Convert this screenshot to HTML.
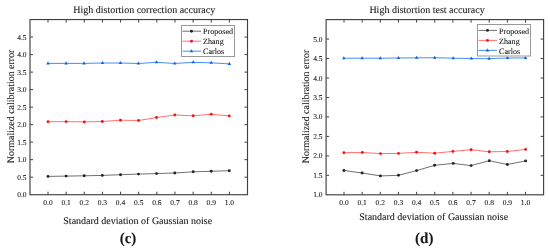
<!DOCTYPE html>
<html><head><meta charset="utf-8"><style>
html,body{margin:0;padding:0;background:#fff;}
svg{display:block;}
text{stroke:#111;stroke-width:0.08px;text-rendering:geometricPrecision;}
</style></head><body>
<svg width="550" height="251" viewBox="0 0 550 251" font-family='"Liberation Serif", "Times New Roman", serif' fill="#151515">
<rect width="550" height="251" fill="#fff"/>
<rect x="30.0" y="19.55" width="217.5" height="175.14999999999998" fill="none" stroke="#404040" stroke-width="1.15"/>
<line x1="48.00" y1="194.7" x2="48.00" y2="191.7" stroke="#404040" stroke-width="1"/>
<line x1="48.00" y1="19.55" x2="48.00" y2="22.55" stroke="#404040" stroke-width="1"/>
<text x="48.00" y="204.70" text-anchor="middle" font-size="7.5">0.0</text>
<line x1="66.14" y1="194.7" x2="66.14" y2="191.7" stroke="#404040" stroke-width="1"/>
<line x1="66.14" y1="19.55" x2="66.14" y2="22.55" stroke="#404040" stroke-width="1"/>
<text x="66.14" y="204.70" text-anchor="middle" font-size="7.5">0.1</text>
<line x1="84.28" y1="194.7" x2="84.28" y2="191.7" stroke="#404040" stroke-width="1"/>
<line x1="84.28" y1="19.55" x2="84.28" y2="22.55" stroke="#404040" stroke-width="1"/>
<text x="84.28" y="204.70" text-anchor="middle" font-size="7.5">0.2</text>
<line x1="102.42" y1="194.7" x2="102.42" y2="191.7" stroke="#404040" stroke-width="1"/>
<line x1="102.42" y1="19.55" x2="102.42" y2="22.55" stroke="#404040" stroke-width="1"/>
<text x="102.42" y="204.70" text-anchor="middle" font-size="7.5">0.3</text>
<line x1="120.56" y1="194.7" x2="120.56" y2="191.7" stroke="#404040" stroke-width="1"/>
<line x1="120.56" y1="19.55" x2="120.56" y2="22.55" stroke="#404040" stroke-width="1"/>
<text x="120.56" y="204.70" text-anchor="middle" font-size="7.5">0.4</text>
<line x1="138.70" y1="194.7" x2="138.70" y2="191.7" stroke="#404040" stroke-width="1"/>
<line x1="138.70" y1="19.55" x2="138.70" y2="22.55" stroke="#404040" stroke-width="1"/>
<text x="138.70" y="204.70" text-anchor="middle" font-size="7.5">0.5</text>
<line x1="156.84" y1="194.7" x2="156.84" y2="191.7" stroke="#404040" stroke-width="1"/>
<line x1="156.84" y1="19.55" x2="156.84" y2="22.55" stroke="#404040" stroke-width="1"/>
<text x="156.84" y="204.70" text-anchor="middle" font-size="7.5">0.6</text>
<line x1="174.98" y1="194.7" x2="174.98" y2="191.7" stroke="#404040" stroke-width="1"/>
<line x1="174.98" y1="19.55" x2="174.98" y2="22.55" stroke="#404040" stroke-width="1"/>
<text x="174.98" y="204.70" text-anchor="middle" font-size="7.5">0.7</text>
<line x1="193.12" y1="194.7" x2="193.12" y2="191.7" stroke="#404040" stroke-width="1"/>
<line x1="193.12" y1="19.55" x2="193.12" y2="22.55" stroke="#404040" stroke-width="1"/>
<text x="193.12" y="204.70" text-anchor="middle" font-size="7.5">0.8</text>
<line x1="211.26" y1="194.7" x2="211.26" y2="191.7" stroke="#404040" stroke-width="1"/>
<line x1="211.26" y1="19.55" x2="211.26" y2="22.55" stroke="#404040" stroke-width="1"/>
<text x="211.26" y="204.70" text-anchor="middle" font-size="7.5">0.9</text>
<line x1="229.40" y1="194.7" x2="229.40" y2="191.7" stroke="#404040" stroke-width="1"/>
<line x1="229.40" y1="19.55" x2="229.40" y2="22.55" stroke="#404040" stroke-width="1"/>
<text x="229.40" y="204.70" text-anchor="middle" font-size="7.5">1.0</text>
<text x="26.5" y="197.20" text-anchor="end" font-size="7.5">0.0</text>
<text x="26.5" y="179.69" text-anchor="end" font-size="7.5">0.5</text>
<line x1="30.0" y1="177.19" x2="33.0" y2="177.19" stroke="#404040" stroke-width="1"/>
<line x1="247.5" y1="177.19" x2="244.5" y2="177.19" stroke="#404040" stroke-width="1"/>
<text x="26.5" y="162.17" text-anchor="end" font-size="7.5">1.0</text>
<line x1="30.0" y1="159.67" x2="33.0" y2="159.67" stroke="#404040" stroke-width="1"/>
<line x1="247.5" y1="159.67" x2="244.5" y2="159.67" stroke="#404040" stroke-width="1"/>
<text x="26.5" y="144.66" text-anchor="end" font-size="7.5">1.5</text>
<line x1="30.0" y1="142.16" x2="33.0" y2="142.16" stroke="#404040" stroke-width="1"/>
<line x1="247.5" y1="142.16" x2="244.5" y2="142.16" stroke="#404040" stroke-width="1"/>
<text x="26.5" y="127.14" text-anchor="end" font-size="7.5">2.0</text>
<line x1="30.0" y1="124.64" x2="33.0" y2="124.64" stroke="#404040" stroke-width="1"/>
<line x1="247.5" y1="124.64" x2="244.5" y2="124.64" stroke="#404040" stroke-width="1"/>
<text x="26.5" y="109.62" text-anchor="end" font-size="7.5">2.5</text>
<line x1="30.0" y1="107.12" x2="33.0" y2="107.12" stroke="#404040" stroke-width="1"/>
<line x1="247.5" y1="107.12" x2="244.5" y2="107.12" stroke="#404040" stroke-width="1"/>
<text x="26.5" y="92.11" text-anchor="end" font-size="7.5">3.0</text>
<line x1="30.0" y1="89.61" x2="33.0" y2="89.61" stroke="#404040" stroke-width="1"/>
<line x1="247.5" y1="89.61" x2="244.5" y2="89.61" stroke="#404040" stroke-width="1"/>
<text x="26.5" y="74.60" text-anchor="end" font-size="7.5">3.5</text>
<line x1="30.0" y1="72.10" x2="33.0" y2="72.10" stroke="#404040" stroke-width="1"/>
<line x1="247.5" y1="72.10" x2="244.5" y2="72.10" stroke="#404040" stroke-width="1"/>
<text x="26.5" y="57.08" text-anchor="end" font-size="7.5">4.0</text>
<line x1="30.0" y1="54.58" x2="33.0" y2="54.58" stroke="#404040" stroke-width="1"/>
<line x1="247.5" y1="54.58" x2="244.5" y2="54.58" stroke="#404040" stroke-width="1"/>
<text x="26.5" y="39.56" text-anchor="end" font-size="7.5">4.5</text>
<line x1="30.0" y1="37.06" x2="33.0" y2="37.06" stroke="#404040" stroke-width="1"/>
<line x1="247.5" y1="37.06" x2="244.5" y2="37.06" stroke="#404040" stroke-width="1"/>
<polyline points="48,176.4 66.1,176.1 84.2,175.8 102.3,175.4 120.5,174.7 138.5,174.1 156.6,173.6 174.8,173.0 193.2,171.8 211.2,171.3 229.3,170.7" fill="none" stroke="#606060" stroke-width="0.9"/>
<circle cx="48" cy="176.4" r="1.45" fill="#222"/>
<circle cx="66.1" cy="176.1" r="1.45" fill="#222"/>
<circle cx="84.2" cy="175.8" r="1.45" fill="#222"/>
<circle cx="102.3" cy="175.4" r="1.45" fill="#222"/>
<circle cx="120.5" cy="174.7" r="1.45" fill="#222"/>
<circle cx="138.5" cy="174.1" r="1.45" fill="#222"/>
<circle cx="156.6" cy="173.6" r="1.45" fill="#222"/>
<circle cx="174.8" cy="173.0" r="1.45" fill="#222"/>
<circle cx="193.2" cy="171.8" r="1.45" fill="#222"/>
<circle cx="211.2" cy="171.3" r="1.45" fill="#222"/>
<circle cx="229.3" cy="170.7" r="1.45" fill="#222"/>
<polyline points="48,121.8 66.1,121.6 84.3,121.9 102.3,121.5 120.5,120.2 138.6,120.5 156.5,117.5 174.8,115.0 193.2,115.8 211.2,114.3 229.3,115.9" fill="none" stroke="#ff6060" stroke-width="0.9"/>
<circle cx="48" cy="121.8" r="1.45" fill="#ff1010"/>
<circle cx="66.1" cy="121.6" r="1.45" fill="#ff1010"/>
<circle cx="84.3" cy="121.9" r="1.45" fill="#ff1010"/>
<circle cx="102.3" cy="121.5" r="1.45" fill="#ff1010"/>
<circle cx="120.5" cy="120.2" r="1.45" fill="#ff1010"/>
<circle cx="138.6" cy="120.5" r="1.45" fill="#ff1010"/>
<circle cx="156.5" cy="117.5" r="1.45" fill="#ff1010"/>
<circle cx="174.8" cy="115.0" r="1.45" fill="#ff1010"/>
<circle cx="193.2" cy="115.8" r="1.45" fill="#ff1010"/>
<circle cx="211.2" cy="114.3" r="1.45" fill="#ff1010"/>
<circle cx="229.3" cy="115.9" r="1.45" fill="#ff1010"/>
<polyline points="48,63.4 66.1,63.4 84.1,63.4 102.5,63.0 120.5,63.0 138.4,63.5 156.5,62.3 174.7,63.5 193.2,62.3 211.2,62.8 229.4,63.9" fill="none" stroke="#3282f0" stroke-width="0.9"/>
<polygon points="46.25,64.43 49.75,64.43 48.00,61.33" fill="#1060e8"/>
<polygon points="64.35,64.43 67.85,64.43 66.10,61.33" fill="#1060e8"/>
<polygon points="82.35,64.43 85.85,64.43 84.10,61.33" fill="#1060e8"/>
<polygon points="100.75,64.03 104.25,64.03 102.50,60.93" fill="#1060e8"/>
<polygon points="118.75,64.03 122.25,64.03 120.50,60.93" fill="#1060e8"/>
<polygon points="136.65,64.53 140.15,64.53 138.40,61.43" fill="#1060e8"/>
<polygon points="154.75,63.33 158.25,63.33 156.50,60.23" fill="#1060e8"/>
<polygon points="172.95,64.53 176.45,64.53 174.70,61.43" fill="#1060e8"/>
<polygon points="191.45,63.33 194.95,63.33 193.20,60.23" fill="#1060e8"/>
<polygon points="209.45,63.83 212.95,63.83 211.20,60.73" fill="#1060e8"/>
<polygon points="227.65,64.93 231.15,64.93 229.40,61.83" fill="#1060e8"/>
<rect x="181.5" y="25.5" width="53" height="31" fill="#fff" stroke="#999" stroke-width="1"/>
<line x1="182.5" y1="31.2" x2="201.0" y2="31.2" stroke="#606060" stroke-width="0.9"/>
<circle cx="191.5" cy="31.2" r="1.45" fill="#222"/>
<text x="203.0" y="34.30" font-size="8.1">Proposed</text>
<line x1="182.5" y1="41.2" x2="201.0" y2="41.2" stroke="#ff6060" stroke-width="0.9"/>
<circle cx="191.5" cy="41.2" r="1.45" fill="#ff1010"/>
<text x="203.0" y="44.30" font-size="8.1">Zhang</text>
<line x1="182.5" y1="51.2" x2="201.0" y2="51.2" stroke="#3282f0" stroke-width="0.9"/>
<polygon points="189.75,52.23 193.25,52.23 191.50,49.13" fill="#1060e8"/>
<text x="203.0" y="54.30" font-size="8.1">Carlos</text>
<text x="73.3" y="12.9" font-size="10">High distortion correction accuracy</text>
<text x="63.3" y="223.8" font-size="10">Standard deviation of Gaussian noise</text>
<text transform="translate(13.5,163.2) rotate(-90)" font-size="10" textLength="113.6" lengthAdjust="spacingAndGlyphs">Normalized calibration error</text>
<text x="119.7" y="242.7" font-size="15" font-weight="bold">(c)</text>
<rect x="326.1" y="19.6" width="217.5" height="175.20000000000002" fill="none" stroke="#404040" stroke-width="1.15"/>
<line x1="344.00" y1="194.8" x2="344.00" y2="191.8" stroke="#404040" stroke-width="1"/>
<line x1="344.00" y1="19.6" x2="344.00" y2="22.6" stroke="#404040" stroke-width="1"/>
<text x="344.00" y="204.80" text-anchor="middle" font-size="7.5">0.0</text>
<line x1="362.15" y1="194.8" x2="362.15" y2="191.8" stroke="#404040" stroke-width="1"/>
<line x1="362.15" y1="19.6" x2="362.15" y2="22.6" stroke="#404040" stroke-width="1"/>
<text x="362.15" y="204.80" text-anchor="middle" font-size="7.5">0.1</text>
<line x1="380.30" y1="194.8" x2="380.30" y2="191.8" stroke="#404040" stroke-width="1"/>
<line x1="380.30" y1="19.6" x2="380.30" y2="22.6" stroke="#404040" stroke-width="1"/>
<text x="380.30" y="204.80" text-anchor="middle" font-size="7.5">0.2</text>
<line x1="398.45" y1="194.8" x2="398.45" y2="191.8" stroke="#404040" stroke-width="1"/>
<line x1="398.45" y1="19.6" x2="398.45" y2="22.6" stroke="#404040" stroke-width="1"/>
<text x="398.45" y="204.80" text-anchor="middle" font-size="7.5">0.3</text>
<line x1="416.60" y1="194.8" x2="416.60" y2="191.8" stroke="#404040" stroke-width="1"/>
<line x1="416.60" y1="19.6" x2="416.60" y2="22.6" stroke="#404040" stroke-width="1"/>
<text x="416.60" y="204.80" text-anchor="middle" font-size="7.5">0.4</text>
<line x1="434.75" y1="194.8" x2="434.75" y2="191.8" stroke="#404040" stroke-width="1"/>
<line x1="434.75" y1="19.6" x2="434.75" y2="22.6" stroke="#404040" stroke-width="1"/>
<text x="434.75" y="204.80" text-anchor="middle" font-size="7.5">0.5</text>
<line x1="452.90" y1="194.8" x2="452.90" y2="191.8" stroke="#404040" stroke-width="1"/>
<line x1="452.90" y1="19.6" x2="452.90" y2="22.6" stroke="#404040" stroke-width="1"/>
<text x="452.90" y="204.80" text-anchor="middle" font-size="7.5">0.6</text>
<line x1="471.05" y1="194.8" x2="471.05" y2="191.8" stroke="#404040" stroke-width="1"/>
<line x1="471.05" y1="19.6" x2="471.05" y2="22.6" stroke="#404040" stroke-width="1"/>
<text x="471.05" y="204.80" text-anchor="middle" font-size="7.5">0.7</text>
<line x1="489.20" y1="194.8" x2="489.20" y2="191.8" stroke="#404040" stroke-width="1"/>
<line x1="489.20" y1="19.6" x2="489.20" y2="22.6" stroke="#404040" stroke-width="1"/>
<text x="489.20" y="204.80" text-anchor="middle" font-size="7.5">0.8</text>
<line x1="507.35" y1="194.8" x2="507.35" y2="191.8" stroke="#404040" stroke-width="1"/>
<line x1="507.35" y1="19.6" x2="507.35" y2="22.6" stroke="#404040" stroke-width="1"/>
<text x="507.35" y="204.80" text-anchor="middle" font-size="7.5">0.9</text>
<line x1="525.50" y1="194.8" x2="525.50" y2="191.8" stroke="#404040" stroke-width="1"/>
<line x1="525.50" y1="19.6" x2="525.50" y2="22.6" stroke="#404040" stroke-width="1"/>
<text x="525.50" y="204.80" text-anchor="middle" font-size="7.5">1.0</text>
<text x="322.5" y="197.30" text-anchor="end" font-size="7.5">1.0</text>
<text x="322.5" y="177.83" text-anchor="end" font-size="7.5">1.5</text>
<line x1="326.1" y1="175.33" x2="329.1" y2="175.33" stroke="#404040" stroke-width="1"/>
<line x1="543.6" y1="175.33" x2="540.6" y2="175.33" stroke="#404040" stroke-width="1"/>
<text x="322.5" y="158.37" text-anchor="end" font-size="7.5">2.0</text>
<line x1="326.1" y1="155.87" x2="329.1" y2="155.87" stroke="#404040" stroke-width="1"/>
<line x1="543.6" y1="155.87" x2="540.6" y2="155.87" stroke="#404040" stroke-width="1"/>
<text x="322.5" y="138.90" text-anchor="end" font-size="7.5">2.5</text>
<line x1="326.1" y1="136.40" x2="329.1" y2="136.40" stroke="#404040" stroke-width="1"/>
<line x1="543.6" y1="136.40" x2="540.6" y2="136.40" stroke="#404040" stroke-width="1"/>
<text x="322.5" y="119.43" text-anchor="end" font-size="7.5">3.0</text>
<line x1="326.1" y1="116.93" x2="329.1" y2="116.93" stroke="#404040" stroke-width="1"/>
<line x1="543.6" y1="116.93" x2="540.6" y2="116.93" stroke="#404040" stroke-width="1"/>
<text x="322.5" y="99.97" text-anchor="end" font-size="7.5">3.5</text>
<line x1="326.1" y1="97.47" x2="329.1" y2="97.47" stroke="#404040" stroke-width="1"/>
<line x1="543.6" y1="97.47" x2="540.6" y2="97.47" stroke="#404040" stroke-width="1"/>
<text x="322.5" y="80.50" text-anchor="end" font-size="7.5">4.0</text>
<line x1="326.1" y1="78.00" x2="329.1" y2="78.00" stroke="#404040" stroke-width="1"/>
<line x1="543.6" y1="78.00" x2="540.6" y2="78.00" stroke="#404040" stroke-width="1"/>
<text x="322.5" y="61.03" text-anchor="end" font-size="7.5">4.5</text>
<line x1="326.1" y1="58.53" x2="329.1" y2="58.53" stroke="#404040" stroke-width="1"/>
<line x1="543.6" y1="58.53" x2="540.6" y2="58.53" stroke="#404040" stroke-width="1"/>
<text x="322.5" y="41.57" text-anchor="end" font-size="7.5">5.0</text>
<line x1="326.1" y1="39.07" x2="329.1" y2="39.07" stroke="#404040" stroke-width="1"/>
<line x1="543.6" y1="39.07" x2="540.6" y2="39.07" stroke="#404040" stroke-width="1"/>
<polyline points="343.9,170.5 362.1,173.0 380.4,175.9 398.5,175.3 416.6,170.6 434.6,165.3 453.2,163.4 471.1,165.6 489.3,160.7 507.3,164.5 525.6,160.9" fill="none" stroke="#606060" stroke-width="0.9"/>
<circle cx="343.9" cy="170.5" r="1.45" fill="#222"/>
<circle cx="362.1" cy="173.0" r="1.45" fill="#222"/>
<circle cx="380.4" cy="175.9" r="1.45" fill="#222"/>
<circle cx="398.5" cy="175.3" r="1.45" fill="#222"/>
<circle cx="416.6" cy="170.6" r="1.45" fill="#222"/>
<circle cx="434.6" cy="165.3" r="1.45" fill="#222"/>
<circle cx="453.2" cy="163.4" r="1.45" fill="#222"/>
<circle cx="471.1" cy="165.6" r="1.45" fill="#222"/>
<circle cx="489.3" cy="160.7" r="1.45" fill="#222"/>
<circle cx="507.3" cy="164.5" r="1.45" fill="#222"/>
<circle cx="525.6" cy="160.9" r="1.45" fill="#222"/>
<polyline points="343.9,152.7 362.3,152.5 380.5,153.6 398.5,153.4 416.6,152.3 434.7,153.2 452.9,151.4 471.1,149.7 489.3,151.8 507.3,151.5 525.6,149.4" fill="none" stroke="#ff6060" stroke-width="0.9"/>
<circle cx="343.9" cy="152.7" r="1.45" fill="#ff1010"/>
<circle cx="362.3" cy="152.5" r="1.45" fill="#ff1010"/>
<circle cx="380.5" cy="153.6" r="1.45" fill="#ff1010"/>
<circle cx="398.5" cy="153.4" r="1.45" fill="#ff1010"/>
<circle cx="416.6" cy="152.3" r="1.45" fill="#ff1010"/>
<circle cx="434.7" cy="153.2" r="1.45" fill="#ff1010"/>
<circle cx="452.9" cy="151.4" r="1.45" fill="#ff1010"/>
<circle cx="471.1" cy="149.7" r="1.45" fill="#ff1010"/>
<circle cx="489.3" cy="151.8" r="1.45" fill="#ff1010"/>
<circle cx="507.3" cy="151.5" r="1.45" fill="#ff1010"/>
<circle cx="525.6" cy="149.4" r="1.45" fill="#ff1010"/>
<polyline points="343.8,58.2 362.1,58.2 380.3,58.2 398.5,58.0 416.6,57.8 434.7,57.7 453.2,58.2 471.4,58.5 489.1,58.6 507.5,58.0 525.6,58.0" fill="none" stroke="#3282f0" stroke-width="0.9"/>
<polygon points="342.05,59.23 345.55,59.23 343.80,56.13" fill="#1060e8"/>
<polygon points="360.35,59.23 363.85,59.23 362.10,56.13" fill="#1060e8"/>
<polygon points="378.55,59.23 382.05,59.23 380.30,56.13" fill="#1060e8"/>
<polygon points="396.75,59.03 400.25,59.03 398.50,55.93" fill="#1060e8"/>
<polygon points="414.85,58.83 418.35,58.83 416.60,55.73" fill="#1060e8"/>
<polygon points="432.95,58.73 436.45,58.73 434.70,55.63" fill="#1060e8"/>
<polygon points="451.45,59.23 454.95,59.23 453.20,56.13" fill="#1060e8"/>
<polygon points="469.65,59.53 473.15,59.53 471.40,56.43" fill="#1060e8"/>
<polygon points="487.35,59.63 490.85,59.63 489.10,56.53" fill="#1060e8"/>
<polygon points="505.75,59.03 509.25,59.03 507.50,55.93" fill="#1060e8"/>
<polygon points="523.85,59.03 527.35,59.03 525.60,55.93" fill="#1060e8"/>
<rect x="477.5" y="24.5" width="53" height="31.5" fill="#fff" stroke="#999" stroke-width="1"/>
<line x1="478.5" y1="30.4" x2="497.0" y2="30.4" stroke="#606060" stroke-width="0.9"/>
<circle cx="487.5" cy="30.4" r="1.45" fill="#222"/>
<text x="499.0" y="33.50" font-size="8.1">Proposed</text>
<line x1="478.5" y1="40.4" x2="497.0" y2="40.4" stroke="#ff6060" stroke-width="0.9"/>
<circle cx="487.5" cy="40.4" r="1.45" fill="#ff1010"/>
<text x="499.0" y="43.50" font-size="8.1">Zhang</text>
<line x1="478.5" y1="50.4" x2="497.0" y2="50.4" stroke="#3282f0" stroke-width="0.9"/>
<polygon points="485.75,51.43 489.25,51.43 487.50,48.33" fill="#1060e8"/>
<text x="499.0" y="53.50" font-size="8.1">Carlos</text>
<text x="369.4" y="12.9" font-size="10">High distortion test accuracy</text>
<text x="359.3" y="219.7" font-size="10">Standard deviation of Gaussian noise</text>
<text transform="translate(309,163.2) rotate(-90)" font-size="10" textLength="113.49999999999999" lengthAdjust="spacingAndGlyphs">Normalized calibration error</text>
<text x="415.1" y="242.7" font-size="15" font-weight="bold">(d)</text>
</svg>
</body></html>
